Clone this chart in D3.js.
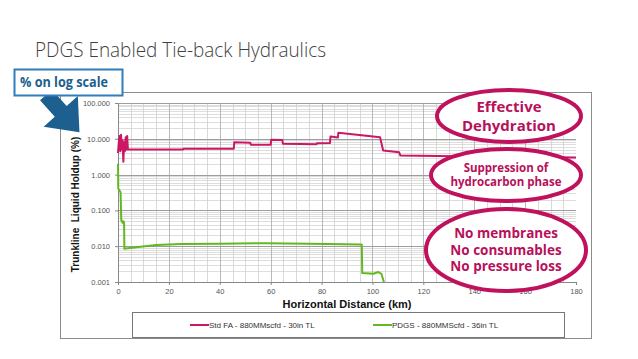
<!DOCTYPE html>
<html>
<head>
<meta charset="utf-8">
<script src="https://cdn.jsdelivr.net/npm/d3@7"></script>
<style>
  body { margin: 0; background: #fff; }
  svg { display: block; }
  .tick text { font-family: "Liberation Sans", Arial, sans-serif; font-size: 7.5px; fill: #555; }
</style>
</head>
<body>
<svg id="chart" width="638" height="359"></svg>
<script>
(function (d3) {
    'use strict';

    // Std FA - 880MMscfd - 30in TL
    var stdKm  = [0, 0.3, 0.6, 0.9, 1.2, 1.5, 1.8, 2.1, 2.4, 2.7, 3.0, 3.3, 3.6, 3.9, 4.2, 25.6, 25.7, 45.5, 45.7, 52, 52.2, 60, 60.2, 64.6, 64.8, 78, 78.2, 83.3, 83.5, 86.4, 86.6, 103, 104.2, 110.5, 111, 140, 180];
    var stdVal = [4, 8, 12, 4.5, 13, 5, 9, 2.3, 8, 4.5, 11, 5, 12, 5, 5.0, 5.0, 5.3, 5.3, 8.0, 7.8, 6.8, 6.8, 9.4, 9.2, 7.3, 7.0, 7.5, 7.6, 11.6, 10.8, 14.7, 11.1, 4.7, 4.2, 3.4, 3.2, 3.0];

    // PDGS - 880MMScfd - 36in TL
    var pdgsKm  = [0, 0.1, 1.0, 1.3, 1.8, 2.1, 2.4, 2.5, 3, 8, 15, 25, 40, 58, 75, 95.8, 96, 100.4, 102.3, 103.5, 104.5];
    var pdgsVal = [2.0, 0.41, 0.32, 0.052, 0.045, 0.05, 0.045, 0.0085, 0.0086, 0.0095, 0.0108, 0.0115, 0.0118, 0.0121, 0.0118, 0.0112, 0.00177, 0.0017, 0.0019, 0.0017, 0.001];

    var xTicks = [0, 20, 40, 60, 80, 100, 120, 140, 160, 180];
    var yTicks = [0.001, 0.01, 0.1, 1, 10, 100];
    var seriesNames = ['Std FA - 880MMscfd - 30in TL', 'PDGS - 880MMScfd - 36in TL'];
    var callouts = [['Effective', 'Dehydration'], ['Suppression of', 'hydrocarbon phase'], ['No membranes', 'No consumables', 'No pressure loss']];

    var red = '#cc1765', green = '#63b81f', magenta = '#c0115c';

    var svg = d3.select('#chart');
    var plot = { left: 118, right: 576, top: 103, bottom: 282 };

    var x = d3.scaleLinear().domain([0, 180]).range([plot.left, plot.right]),
        y = d3.scaleLog().domain([0.001, 100]).range([plot.bottom, plot.top]);

    svg.append('rect').attr('width', 638).attr('height', 359).attr('fill', '#fff');

    // title
    svg.append('text')
        .attr('x', 35).attr('y', 57)
        .attr('textLength', 291).attr('lengthAdjust', 'spacingAndGlyphs')
        .style('font-family', '"Open Sans", sans-serif')
        .style('font-weight', 300)
        .style('font-size', '21px')
        .style('fill', '#3f3f3f')
        .text('PDGS Enabled Tie-back Hydraulics');

    // chart frame
    svg.append('rect')
        .attr('x', 60.5).attr('y', 92.5).attr('width', 531).attr('height', 246)
        .attr('fill', '#fff').attr('stroke', '#8c8c8c').attr('stroke-width', 1);

    // grid
    var grid = svg.append('g');
    var minor = [];
    yTicks.slice(0, -1).forEach(function (d) {
        for (var k = 2; k < 10; k++) minor.push(d * k);
    });
    grid.selectAll('.hminor').data(minor).enter().append('line')
        .attr('x1', plot.left).attr('x2', plot.right)
        .attr('y1', function (d) { return Math.round(y(d)) + 0.5; })
        .attr('y2', function (d) { return Math.round(y(d)) + 0.5; })
        .attr('stroke', '#d4d4d4').attr('stroke-width', 0.8);
    grid.selectAll('.vminor').data(d3.range(5, 180, 5)).enter().append('line')
        .attr('y1', plot.top).attr('y2', plot.bottom)
        .attr('x1', function (d) { return Math.round(x(d)) + 0.5; })
        .attr('x2', function (d) { return Math.round(x(d)) + 0.5; })
        .attr('stroke', function (d) { return d % 20 === 0 ? '#a8a8a8' : '#cfcfcf'; })
        .attr('stroke-width', 0.8);
    grid.selectAll('.hmajor').data(yTicks).enter().append('line')
        .attr('x1', plot.left).attr('x2', plot.right)
        .attr('y1', function (d) { return Math.round(y(d)) + 0.5; })
        .attr('y2', function (d) { return Math.round(y(d)) + 0.5; })
        .attr('stroke', '#9d9d9d').attr('stroke-width', 1);

    // axes
    var xAxis = svg.append('g')
        .attr('transform', 'translate(0,' + plot.bottom + ')')
        .call(d3.axisBottom(x).tickValues(xTicks).tickSize(3).tickPadding(4));
    var yAxis = svg.append('g')
        .attr('transform', 'translate(' + plot.left + ',0)')
        .call(d3.axisLeft(y).tickValues(yTicks).tickSize(3).tickPadding(5).tickFormat(d3.format('.3f')));
    [xAxis, yAxis].forEach(function (a) {
        a.select('.domain').attr('stroke', '#888');
        a.selectAll('.tick line').attr('stroke', '#888');
    });

    // axis titles
    svg.append('text')
        .attr('x', 347).attr('y', 308)
        .attr('text-anchor', 'middle')
        .style('font-family', '"Liberation Sans", Arial, sans-serif')
        .style('font-weight', 'bold').style('font-size', '11px').style('fill', '#111')
        .text('Horizontal Distance (km)');
    svg.append('text')
        .attr('transform', 'translate(79,' + ((plot.top + plot.bottom) / 2 + 12) + ') rotate(-90)')
        .attr('text-anchor', 'middle')
        .style('font-family', '"Liberation Sans", Arial, sans-serif')
        .style('font-weight', 'bold').style('font-size', '10px').style('fill', '#111')
        .style('white-space', 'pre')
        .text('Trunkline  Liquid Holdup (%)');

    // lines
    var line = d3.line()
        .x(function (d) { return x(d[0]); })
        .y(function (d) { return y(d[1]); });

    var series = [
        { name: seriesNames[0], color: red, values: d3.zip(stdKm, stdVal) },
        { name: seriesNames[1], color: green, values: d3.zip(pdgsKm, pdgsVal) }
    ];

    svg.selectAll('.series').data(series).enter().append('path')
        .attr('class', 'series')
        .attr('d', function (d) { return line(d.values); })
        .attr('fill', 'none')
        .attr('stroke', function (d) { return d.color; })
        .attr('stroke-width', 2)
        .attr('stroke-linejoin', 'round');

    // legend
    svg.append('rect')
        .attr('x', 132.5).attr('y', 312.5).attr('width', 432).attr('height', 25)
        .attr('fill', '#fff').attr('stroke', '#777').attr('stroke-width', 1);
    var legend = svg.selectAll('.legend').data(series).enter().append('g')
        .attr('class', 'legend')
        .attr('transform', function (d, i) { return 'translate(' + [190, 373][i] + ',325)'; });
    legend.append('line')
        .attr('x1', 0).attr('x2', 19)
        .attr('stroke', function (d) { return d.color; }).attr('stroke-width', 2);
    legend.append('text')
        .attr('x', 19).attr('y', 3)
        .style('font-family', '"Liberation Sans", Arial, sans-serif')
        .style('font-size', '8px').style('fill', '#333')
        .text(function (d) { return d.name; });

    // callout ellipses
    var bubbles = [
        { cx: 509, cy: 116, rx: 72, ry: 26, size: 15 },
        { cx: 506, cy: 175, rx: 75, ry: 26, size: 11.5 },
        { cx: 506, cy: 250, rx: 80, ry: 41, size: 13.5 }
    ];
    var bubble = svg.selectAll('.bubble').data(bubbles).enter().append('g').attr('class', 'bubble');
    bubble.append('ellipse')
        .attr('cx', function (d) { return d.cx; }).attr('cy', function (d) { return d.cy; })
        .attr('rx', function (d) { return d.rx; }).attr('ry', function (d) { return d.ry; })
        .attr('fill', '#fff').attr('stroke', magenta).attr('stroke-width', 4);
    bubble.each(function (d, i) {
        var lines = callouts[i], lh = d.size * 1.22;
        d3.select(this).selectAll('text').data(lines).enter().append('text')
            .attr('x', d.cx)
            .attr('y', function (t, j) { return d.cy + (j - (lines.length - 1) / 2) * lh + d.size * 0.36; })
            .attr('text-anchor', 'middle')
            .style('font-family', '"Open Sans", sans-serif')
            .style('font-weight', 'bold')
            .style('font-size', d.size + 'px')
            .style('fill', '#b8105a')
            .text(function (t) { return t; });
    });

    // "% on log scale" label and arrow
    var arrow = svg.append('g').attr('transform', 'translate(46,95) rotate(48)');
    arrow.append('path')
        .attr('d', 'M0,-8 L22,-8 L22,-23 L50,0 L22,23 L22,8 L0,8 Z')
        .attr('fill', '#1d5f8e');
    svg.append('rect')
        .attr('x', 14.5).attr('y', 69.5).attr('width', 108).attr('height', 26)
        .attr('fill', '#fff').attr('stroke', '#2f7dba').attr('stroke-width', 2);
    svg.append('text')
        .attr('x', 20).attr('y', 87)
        .attr('textLength', 88).attr('lengthAdjust', 'spacingAndGlyphs')
        .style('font-family', '"Open Sans", sans-serif')
        .style('font-weight', 'bold').style('font-size', '14px').style('fill', '#1d5f8e')
        .text('% on log scale');
})(window.d3);
</script>
</body>
</html>
